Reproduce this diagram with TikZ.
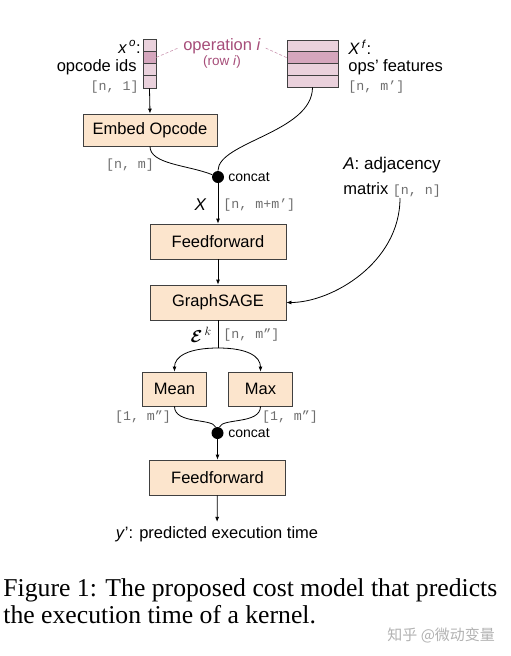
\documentclass[tikz,border=0pt]{standalone}
\usepackage{bm}
\usepackage{fontspec}
\setmainfont{Liberation Sans}
\setmonofont{Liberation Mono}
\newfontfamily\capfont{Liberation Serif}
\newfontfamily\cjkfont{Noto Sans CJK SC}
\usetikzlibrary{arrows.meta}
\definecolor{peach}{RGB}{252,229,205}
\definecolor{rowpink}{RGB}{234,209,220}
\definecolor{rowdark}{RGB}{213,166,189}
\definecolor{opcol}{RGB}{166,77,121}
\definecolor{dimgray}{RGB}{110,110,110}

\begin{document}
\begin{tikzpicture}
  [x=1pt,y=-1pt,line width=0.8pt,>={Latex[length=5pt,width=4pt]},
   box/.style={draw=black!75,fill=peach,minimum width=136pt,minimum height=35pt,font=\fontsize{16.5}{19}\selectfont},
   lbl/.style={inner sep=0pt,font=\fontsize{16.5}{19}\selectfont},
   dims/.style={inner sep=0pt,text=dimgray,font=\ttfamily\fontsize{13.3}{15}\selectfont},
   dot/.style={circle,fill=black,inner sep=0pt,minimum size=12pt},
   cell/.style={draw=black!75,line width=0.7pt,inner sep=0pt}]
  \useasboundingbox (0,0) rectangle (511,656);
  % input matrices
  \foreach \i/\c in {1/rowpink,2/rowdark,3/rowpink,4/rowpink}{
    \node[cell,fill=\c,minimum width=13pt,minimum height=12.25pt] (xo\i) at (149.5,{39+12.25*(\i-0.5)}) {};
    \node[cell,fill=\c,minimum width=51pt,minimum height=11.75pt] (xf\i) at (312.5,{40+11.75*(\i-0.5)}) {};
  }
  \node[lbl,anchor=east] (xolbl) at (141,47) {\textit{x}\textsuperscript{\,\textit{o}}:};
  \node[lbl,anchor=east] (xoname) at (137,67) {opcode ids};
  \node[dims,anchor=east] (xodim) at (139,87) {[n, 1]};
  \node[lbl,anchor=west] (xflbl) at (348,47) {\textit{X}\textsuperscript{\,\textit{f}}:};
  \node[lbl,anchor=west] (xfname) at (348,67) {ops’ features};
  \node[dims,anchor=west] (xfdim) at (348,87) {[n, m’]};
  \node[lbl,text=opcol] (opi) at (222,46) {operation \textit{i}};
  \node[lbl,text=opcol,font=\fontsize{13.5}{16}\selectfont] (rowi) at (222,62) {(row \textit{i})};
  \draw[dash pattern=on 3pt off 2pt,line width=0.6pt,opcol!60,shorten >=5pt] (xo2.east) -- (opi.west);
  \draw[dash pattern=on 3pt off 2pt,line width=0.6pt,opcol!60,shorten <=5pt] (opi.east) -- (xf2.west);
  % model
  \node[box,minimum width=134pt,minimum height=32pt] (embed) at (150,130) {Embed Opcode};
  \node[dims] (embdim) at (130,165) {[n, m]};
  \node[dot] (cat1) at (218,177) {};
  \node[lbl,anchor=west,font=\fontsize{14}{16}\selectfont] (cat1lbl) at (228,177) {concat};
  \node[lbl,anchor=west,font=\fontsize{17}{20}\selectfont] (adjlbl) at (343,165) {\textit{A}: adjacency};
  \node[lbl,anchor=west] (adjname) at (343,190) {matrix {\color{dimgray}\ttfamily\fontsize{13.3}{15}\selectfont [n, n]}};
  \coordinate (adjend) at (400,198);
  \node[lbl,anchor=east,font=\fontsize{17}{20}\selectfont] (xlbl) at (207,205) {\textit{X}};
  \node[dims,anchor=west] (xdim) at (223,205) {[n, m+m’]};
  \node[box] (ff1) at (218,241.5) {Feedforward};
  \node[box] (sage) at (218,302.5) {GraphSAGE};
  \node[lbl,anchor=east] (eklbl) at (212,335) {$\bm{\mathcal{E}}^{\,k}$};
  \node[dims,anchor=west] (ekdim) at (223,335) {[n, m”]};
  \coordinate (split) at (218,348);
  \node[box,minimum width=64pt,minimum height=34pt] (mean) at (174.5,389) {Mean};
  \node[box,minimum width=64pt,minimum height=34pt] (max) at (260.5,389) {Max};
  \node[dims] (meandim) at (143,417) {[1, m”]};
  \node[dims] (maxdim) at (290,417) {[1, m”]};
  \node[dot] (cat2) at (217.5,433) {};
  \node[lbl,anchor=west,font=\fontsize{14}{16}\selectfont] (cat2lbl) at (228,433) {concat};
  \node[box] (ff2) at (217.5,477.5) {Feedforward};
  \node[lbl,inner sep=4pt] (out) at (217,534) {\textit{y}’: predicted execution time};
  % connectors
  \draw[->] (xo4.south) -- (embed.north);
  \draw (embed.south) .. controls +(0,18) and +(-30,-12) .. (cat1);
  \draw (xf4.south) .. controls +(0,45) and +(0,-35) .. (cat1);
  \draw[->] (cat1) -- (ff1.north);
  \draw[->] (ff1) -- (sage);
  \draw[->] (adjend) .. controls +(0,65) and +(45,0) .. (sage.east);
  \draw (sage.south) -- (split);
  \draw[->] (split) .. controls +(-30,0) and +(0,-15) .. (mean.north);
  \draw[->] (split) .. controls +(30,0) and +(0,-15) .. (max.north);
  \draw (mean.south) .. controls +(0,18) and +(-5,-15) .. (cat2);
  \draw (max.south) .. controls +(0,18) and +(5,-15) .. (cat2);
  \draw[->] (cat2) -- (ff2.north);
  \draw[->] (ff2) -- (out);
  % caption
  \node[inner sep=0pt,anchor=base west,font=\capfont\fontsize{25.7}{28}\selectfont] (cap1) at (3,596) {Figure 1: The proposed cost model that predicts};
  \node[inner sep=0pt,anchor=base west,font=\capfont\fontsize{25.7}{28}\selectfont] (cap2) at (3,623) {the execution time of a kernel.};
  \node[inner sep=0pt,anchor=base west,text=black!30,font=\cjkfont\fontsize{15}{18}\selectfont] (mark) at (387,640) {知乎 @微动变量};
\end{tikzpicture}
\end{document}
